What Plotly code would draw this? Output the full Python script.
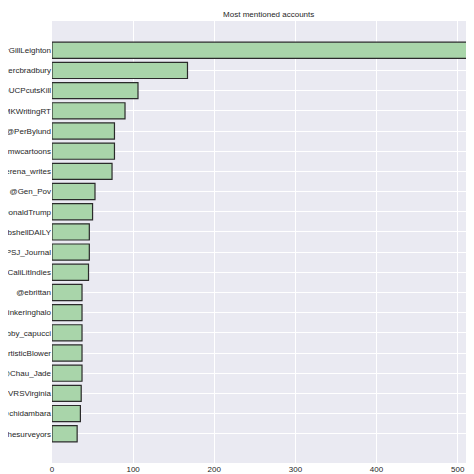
import plotly.graph_objects as go

accounts = ["@DrGillLeighton", "@petercbradbury", "@UCPcutsKill", "@MKWritingRT", "@PerBylund",
            "@mwcartoons", "@Serena_writes", "@Gen_Pov", "@realDonaldTrump", "@BombshellDAILY",
            "@IPSJ_Journal", "@CaliLitIndies", "@ebrittan", "@tinkeringhalo", "@bobby_capucci",
            "@ArtisticBlower", "@Chau_Jade", "@VRSVirginia", "@chidambara", "@allthesurveyors"]
mentions = [545, 167, 106, 90, 77, 77, 74, 53, 50, 46, 46, 45, 37, 37, 37, 37, 37, 36, 35, 31]
xticks = [0, 100, 200, 300, 400, 500]

fig = go.Figure(go.Bar(
    x=mentions, y=accounts, orientation="h",
    marker=dict(color="#a9d5aa", line=dict(color="#2b2b2b", width=1.2)),
    width=0.8,
))
fig.update_layout(
    width=474, height=474,
    margin=dict(l=44, r=0, t=13, b=19),
    paper_bgcolor="white", plot_bgcolor="#EAEAF2",
    font=dict(family="Liberation Sans, Arial", size=8, color="#262626"),
    title=dict(text="Most mentioned accounts", x=0.55, xanchor="center", y=0.992, yanchor="top",
               font=dict(size=8)),
    showlegend=False,
)
fig.update_xaxes(range=[0, 530], tickvals=xticks, showgrid=True, gridcolor="white", gridwidth=1,
                 zeroline=False, ticks="", title=dict(text="No. of mentions", standoff=2, font=dict(size=8)),
                 automargin=False)
fig.update_yaxes(showgrid=True, gridcolor="white", ticks="",
                 automargin=False, range=[20.45, -1.45])
fig.write_html("out.html")
